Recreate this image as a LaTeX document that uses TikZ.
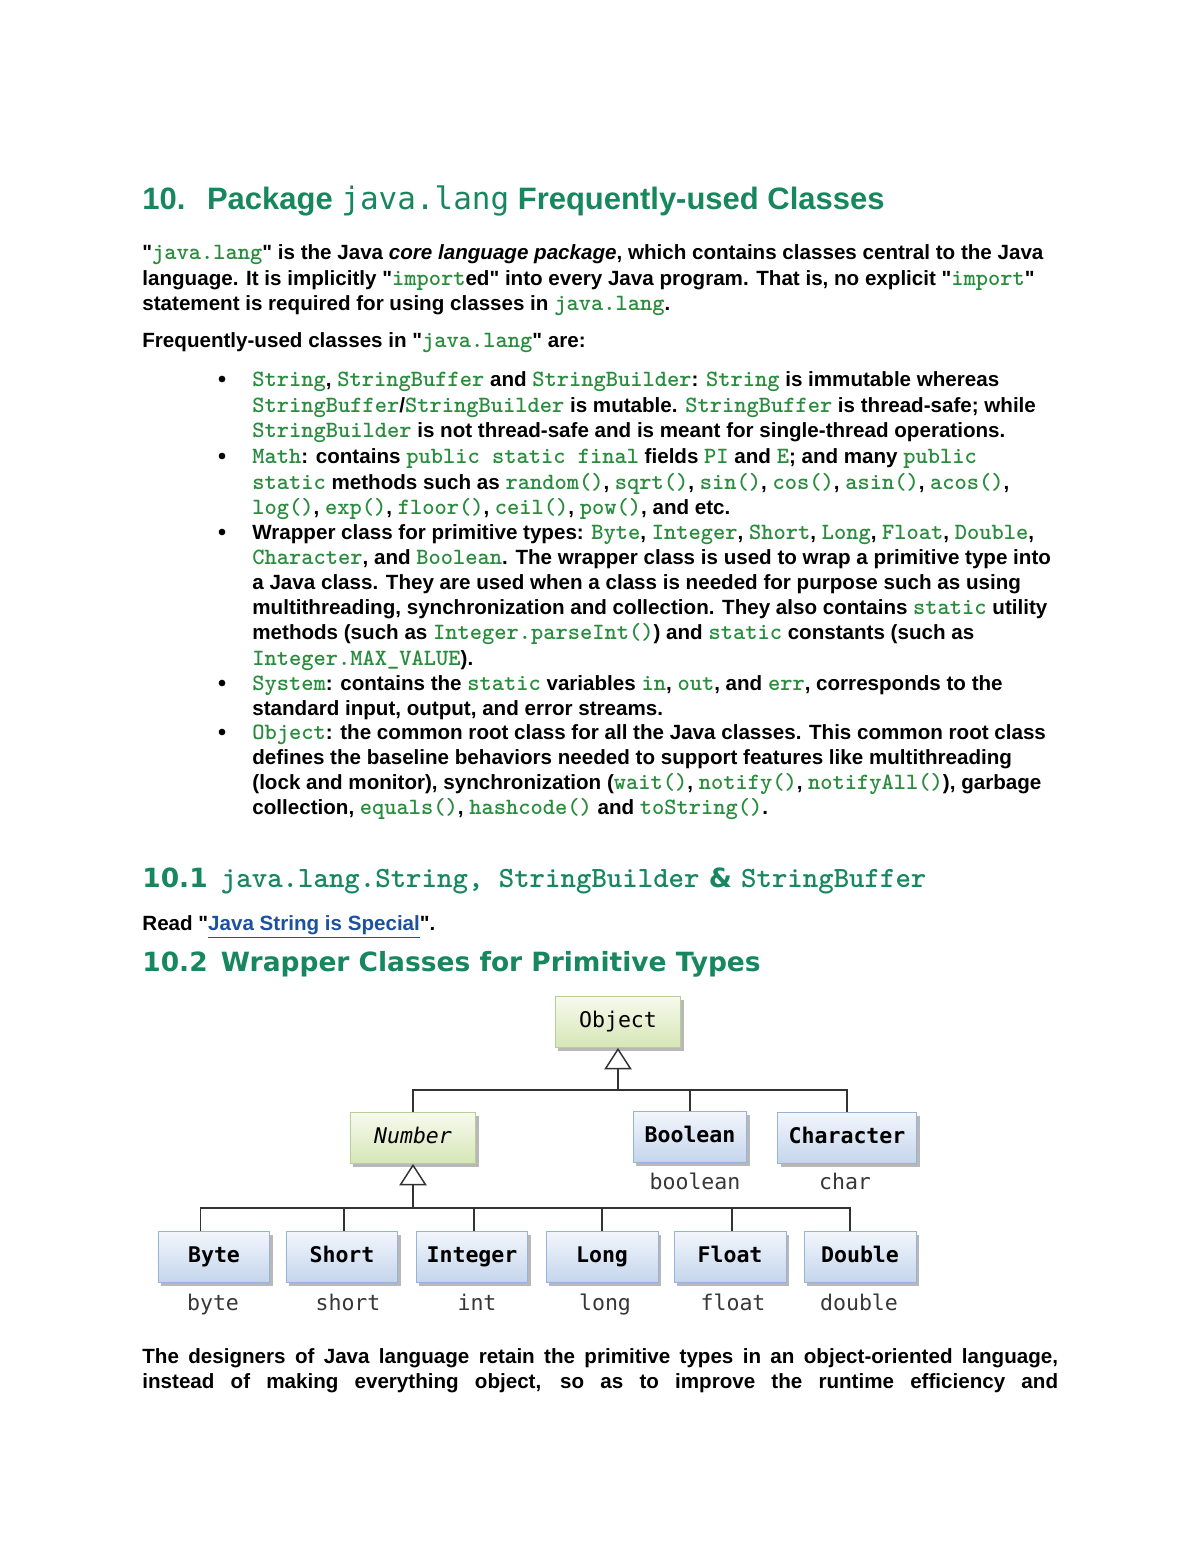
\documentclass[tikz,border=0pt]{standalone}
\usepackage{fontspec}
\setmainfont{Liberation Sans}[Ligatures=TeXOff]
\newfontfamily\boxfont{DejaVu Sans Mono}
\newfontfamily\headfont{DejaVu Sans}
\usetikzlibrary{arrows.meta,shadows}

\definecolor{headgreen}{RGB}{23,135,95}
\definecolor{codegreen}{RGB}{40,140,60}
\definecolor{linkblue}{RGB}{30,80,160}
\definecolor{bluetop}{RGB}{242,246,252}
\definecolor{bluebot}{RGB}{196,213,236}
\definecolor{blueline}{RGB}{150,180,215}
\definecolor{greentop}{RGB}{247,250,238}
\definecolor{greenbot}{RGB}{214,230,182}
\definecolor{greenline}{RGB}{185,205,150}
\definecolor{primgray}{RGB}{55,55,55}

\newcommand{\cd}[1]{{\ttfamily\fontsize{11.9}{13}\selectfont\color{codegreen}#1}}

\tikzset{
  txt/.style={anchor=base west, inner sep=0pt, font=\fontsize{10.5}{13}\selectfont\bfseries},
  bul/.style={circle, fill=black, inner sep=0pt, minimum size=3.4pt},
  clsbox/.style={rectangle, minimum height=26pt, inner sep=2pt, text height=8.2pt, text depth=2.4pt,
    drop shadow={shadow xshift=1.6pt, shadow yshift=-1.6pt, fill=black!28, opacity=1},
    font=\boxfont\fontsize{11}{13}\selectfont\bfseries},
  clsgreen/.style={clsbox, draw=greenline, top color=greentop, bottom color=greenbot, font=\boxfont\fontsize{11}{13}\selectfont},
  clsblue/.style={clsbox, draw=blueline, top color=bluetop, bottom color=bluebot},
  prim/.style={anchor=base, inner sep=0pt, text=primgray, font=\boxfont\fontsize{11}{13}\selectfont},
  conn/.style={draw=black!80, line width=0.75pt},
  inh/.style={conn, -{Triangle[open, length=11pt, width=14pt]}}
}

\begin{document}
\begin{tikzpicture}[x=0.51pt, y=-0.51pt]
  \useasboundingbox[fill=white] (0,0) rectangle (1200,1553);

  % heading
  \node (h10) [anchor=base west, inner sep=0pt, text=headgreen,
    font=\fontsize{15.8}{20}\selectfont\bfseries] at (142,210)
    {10.\hspace{11pt}Package {\boxfont\mdseries java.lang} Frequently-used Classes};

  % intro paragraph
  \node (p1a) [txt] at (142,259) {"\cd{java.lang}" is the Java \textit{core language package}, which contains classes central to the Java};
  \node (p1b) [txt] at (142,285) {language. It is implicitly "\cd{import}ed" into every Java program. That is, no explicit "\cd{import}"};
  \node (p1c) [txt] at (142,310) {statement is required for using classes in \cd{java.lang}.};
  \node (p2) [txt] at (142,347) {Frequently-used classes in "\cd{java.lang}" are:};

  % bullet list
  \foreach \y/\n in {379/b1, 456/b2, 532/b3, 683/b4, 732/b5}
    \node (\n) [bul] at (222,\y) {};
  \node (b1a) [txt] at (252,386) {\cd{String}, \cd{StringBuffer} and \cd{StringBuilder}: \cd{String} is immutable whereas};
  \node (b1b) [txt] at (252,412) {\cd{StringBuffer}/\cd{StringBuilder} is mutable. \cd{StringBuffer} is thread-safe; while};
  \node (b1c) [txt] at (252,437) {\cd{StringBuilder} is not thread-safe and is meant for single-thread operations.};
  \node (b2a) [txt] at (252,463) {\cd{Math}: contains \cd{public static final} fields \cd{PI} and \cd{E}; and many \cd{public}};
  \node (b2b) [txt] at (252,489) {\cd{static} methods such as \cd{random()}, \cd{sqrt()}, \cd{sin()}, \cd{cos()}, \cd{asin()}, \cd{acos()},};
  \node (b2c) [txt] at (252,514) {\cd{log()}, \cd{exp()}, \cd{floor()}, \cd{ceil()}, \cd{pow()}, and etc.};
  \node (b3a) [txt] at (252,539) {Wrapper class for primitive types: \cd{Byte}, \cd{Integer}, \cd{Short}, \cd{Long}, \cd{Float}, \cd{Double},};
  \node (b3b) [txt] at (252,564) {\cd{Character}, and \cd{Boolean}. The wrapper class is used to wrap a primitive type into};
  \node (b3c) [txt] at (252,589) {a Java class. They are used when a class is needed for purpose such as using};
  \node (b3d) [txt] at (252,614) {multithreading, synchronization and collection. They also contains \cd{static} utility};
  \node (b3e) [txt] at (252,639) {methods (such as \cd{Integer.parseInt()}) and \cd{static} constants (such as};
  \node (b3f) [txt] at (252,665) {\cd{Integer.MAX\_VALUE}).};
  \node (b4a) [txt] at (252,690) {\cd{System}: contains the \cd{static} variables \cd{in}, \cd{out}, and \cd{err}, corresponds to the};
  \node (b4b) [txt] at (252,715) {standard input, output, and error streams.};
  \node (b5a) [txt] at (252,739) {\cd{Object}: the common root class for all the Java classes. This common root class};
  \node (b5b) [txt] at (252,764) {defines the baseline behaviors needed to support features like multithreading};
  \node (b5c) [txt] at (252,789) {(lock and monitor), synchronization (\cd{wait()}, \cd{notify()}, \cd{notifyAll()}), garbage};
  \node (b5d) [txt] at (252,814) {collection, \cd{equals()}, \cd{hashcode()} and \cd{toString()}.};

  % section 10.1
  \node (h101) [anchor=base west, inner sep=0pt, text=headgreen,
    font=\headfont\fontsize{13.5}{16}\selectfont\bfseries] at (142,887)
    {10.1\enspace{\ttfamily\fontsize{15}{16}\selectfont java.lang.String, StringBuilder} \& {\ttfamily\fontsize{15}{16}\selectfont StringBuffer}};
  \node (read) [txt] at (142,930) {Read "\textcolor{linkblue}{\underline{Java String is Special}}".};

  % section 10.2
  \node (h102) [anchor=base west, inner sep=0pt, text=headgreen,
    font=\headfont\fontsize{13.5}{16}\selectfont\bfseries] at (142,971)
    {10.2\enspace Wrapper Classes for Primitive Types};

  % class diagram
  \node (Object) [clsgreen, minimum width=64pt] at (618,1022) {Object};
  \node (Number) [clsgreen, minimum width=64pt, font=\boxfont\fontsize{11}{13}\selectfont\itshape] at (413,1138) {Number};
  \node (Boolean) [clsblue, minimum width=58pt] at (690,1137) {Boolean};
  \node (Character) [clsblue, minimum width=71pt] at (847,1138) {Character};
  \node (boolT) [prim] at (695,1189) {boolean};
  \node (charT) [prim] at (845,1189) {char};

  \foreach \c/\x/\t/\tx in {Byte/214/byte/213, Short/342/short/348, Integer/472/int/477,
      Long/602/long/605, Float/730/float/733, Double/860/double/859}{
    \node (\c) [clsblue, minimum width=57pt] at (\x,1257) {\c};
    \node (\t T) [prim] at (\tx,1310) {\t};
  }

  \coordinate (obus) at (Object.south |- 0,1090);
  \coordinate (nbus) at (Number.south |- 0,1208);
  \draw[inh] (obus) -- (Object.south);
  \foreach \c in {Number,Boolean,Character}
    \draw[conn] (\c.north) |- (obus);
  \draw[inh] (nbus) -- (Number.south);
  \foreach \c/\d in {Byte/-7pt,Short/1pt,Integer/1pt,Long/0pt,Float/1pt,Double/-5pt}
    \draw[conn] ([xshift=\d]\c.north) |- (nbus);

  % closing paragraph
  \node (q1) [txt] at (142,1363) {\makebox[467pt][s]{The designers of Java language retain the primitive types in an object-oriented language,}};
  \node (q2) [txt] at (142,1388) {\makebox[467pt][s]{instead of making everything object, so as to improve the runtime efficiency and}};
\end{tikzpicture}
\end{document}
